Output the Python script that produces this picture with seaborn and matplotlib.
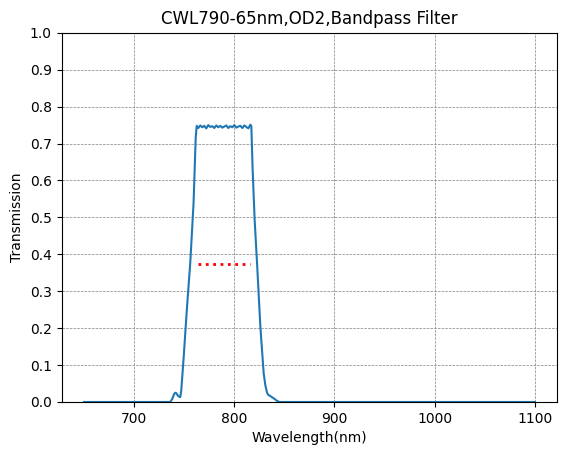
import matplotlib
matplotlib.use("Agg")
import matplotlib.pyplot as plt
import numpy as np
import pandas as pd
import seaborn as sns

# transmission curve
wavelength = [650, 700, 736, 738, 740, 741, 742, 744, 746, 747, 749.5, 752.8, 756, 759.3, 761.5,
              762.5, 764, 766, 768, 770, 772, 774, 776, 778, 780, 782, 784, 786, 788, 790,
              792, 794, 796, 798, 800, 802, 804, 806, 808, 810, 812, 814, 816, 817,
              818.3, 820.3, 822.7, 826, 829.3, 831, 832.7, 834, 836, 839.3, 842.7, 845,
              900, 1000, 1100]
transmission = [0.0, 0.0, 0.0, 0.008, 0.022, 0.025, 0.024, 0.016, 0.013, 0.03, 0.123, 0.258, 0.376, 0.538, 0.719,
                0.748, 0.742, 0.749, 0.744, 0.748, 0.741, 0.750, 0.745, 0.747, 0.742, 0.749, 0.744, 0.748, 0.743, 0.746,
                0.749, 0.742, 0.747, 0.744, 0.750, 0.743, 0.746, 0.748, 0.742, 0.749, 0.745, 0.741, 0.751, 0.747,
                0.629, 0.493, 0.376, 0.204, 0.078, 0.045, 0.025, 0.019, 0.016, 0.010, 0.003, 0.0,
                0.0, 0.0, 0.0]

# half-maximum marker
half_x = [764, 816]
half_y = [0.375, 0.375]

df = pd.DataFrame({"Wavelength": wavelength, "Transmission": transmission})

fig = plt.figure(figsize=(5.67, 4.55), dpi=100)
ax = fig.add_axes([0.1085, 0.1165, 0.8745, 0.8115])

sns.lineplot(data=df, x="Wavelength", y="Transmission", ax=ax, color="#1f77b4", linewidth=1.5)
ax.plot(half_x, half_y, color="red", linestyle=":", linewidth=2)

ax.set_ylim(0, 1)
ax.set_yticks(np.arange(0, 1.01, 0.1))
ax.set_xticks([700, 800, 900, 1000, 1100])
ax.grid(True, color="gray", linestyle="--", linewidth=0.5)
ax.set_title("CWL790-65nm,OD2,Bandpass Filter")
ax.set_xlabel("Wavelength(nm)")
ax.set_ylabel("Transmission")

fig.savefig("out.png", dpi=100)
